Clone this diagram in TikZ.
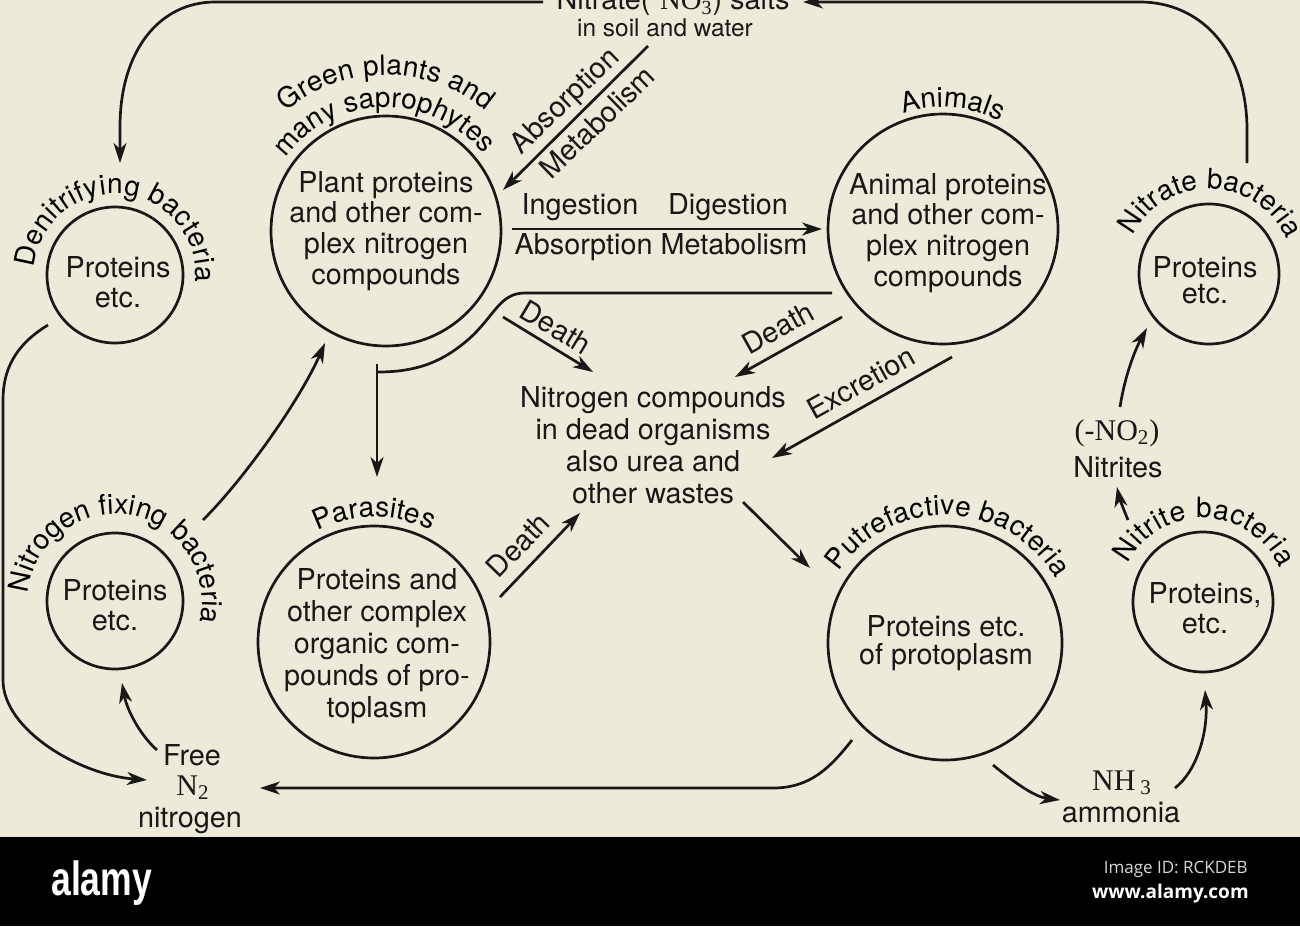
\documentclass[tikz,border=0pt]{standalone}
\usepackage{fontspec}
\setmainfont{TeX Gyre Heros}
\newfontfamily\serifnum{Liberation Serif}
\newfontfamily\logofont[FakeStretch=0.74]{Liberation Sans}
\newfontfamily\idfont{Open Sans}
\usetikzlibrary{arrows.meta,decorations.text}
\definecolor{paper}{RGB}{237,234,217}
\definecolor{ink}{RGB}{24,24,22}
\definecolor{idgray}{RGB}{215,215,215}
\newcommand\bodyfont{\fontsize{14.4}{15.4}\selectfont}
\newcommand\lblfont{\fontsize{14}{14}\selectfont}
\begin{document}
\begin{tikzpicture}[x=0.5pt,y=-0.5pt,line width=1.35pt,color=ink,
  arr/.style={-{Stealth[length=10pt,width=6.5pt,inset=3pt]}},
  ring/.style={circle,draw=ink,line width=1.35pt,inner sep=0pt,outer sep=0pt},
  body/.style={align=center,inner sep=0pt,font=\bodyfont},
  lab/.style={inner sep=0pt,font=\bodyfont},
  arclab/.style={decorate,decoration={text along path,text align={fit to path},text={|\lblfont|#1}}}]
\useasboundingbox (0,0) rectangle (1300,926);
\clip (0,0) rectangle (1300,926);
\fill[paper] (0,0) rectangle (1300,838);
\fill[black] (0,837) rectangle (1300,926);

% ---------- circles ----------
\node[ring,minimum size=115pt] (plant) at (386,231) {};
\node[ring,minimum size=115pt] (animal) at (943,229) {};
\node[ring,minimum size=116pt] (paras) at (374,642) {};
\node[ring,minimum size=117pt] (putre) at (945,643) {};
\node[ring,minimum size=68pt] (denit) at (115,275) {};
\node[ring,minimum size=68pt] (nfix) at (115,601) {};
\node[ring,minimum size=70pt] (nitrate) at (1209,274) {};
\node[ring,minimum size=70pt] (nitrite) at (1203,602) {};

% ---------- texts inside ----------
\node[body] (plantt) at (386,231) {Plant proteins\\and other com-\\plex nitrogen\\compounds};
\node[body] (animalt) at (948,233) {Animal proteins\\and other com-\\plex nitrogen\\compounds};
\node[body,font=\fontsize{14.4}{16}\selectfont] (parast) at (377,646) {Proteins and\\other complex\\organic com-\\pounds of pro-\\toplasm};
\node[body,font=\fontsize{14.4}{14}\selectfont] (putret) at (946,643) {Proteins etc.\\of protoplasm};
\node[body,font=\fontsize{14.4}{15}\selectfont] (denitt) at (118,282) {Proteins\\etc.};
\node[body,font=\fontsize{14.4}{15}\selectfont] (nfixt) at (115,605) {Proteins\\etc.};
\node[body,font=\fontsize{14.4}{13}\selectfont] (nitratet) at (1205,280) {Proteins\\etc.};
\node[body,font=\fontsize{14.4}{15}\selectfont] (nitritet) at (1205,608) {Proteins,\\etc.};
\node[body,font=\fontsize{14.4}{16}\selectfont] (deadt) at (653,445) {Nitrogen compounds\\in dead organisms\\also urea and\\other wastes};

% ---------- curved labels ----------
\path[arclab={Green plants and}] (plant.center) ++(-130:156) arc[start angle=-130,end angle=-50,radius=156];
\path[arclab={many saprophytes}] (plant.center) ++(-144:124) arc[start angle=-144,end angle=-38,radius=124];
\path[arclab={Animals}] (animal.center) ++(-109:122) arc[start angle=-109,end angle=-62,radius=122];
\path[arclab={Parasites}] (paras.center) ++(-117:125) arc[start angle=-117,end angle=-63,radius=125];
\path[arclab={Putrefactive bacteria}] (putre.center) ++(-146:128) arc[start angle=-146,end angle=-30,radius=128];
\path[arclab={Denitrifying bacteria}] (denit.center) ++(-175:81) arc[start angle=-175,end angle=5,radius=81];
\path[arclab={Nitrogen fixing bacteria}] (nfix.center) ++(-175:87) arc[start angle=-175,end angle=14,radius=87];
\path[arclab={Nitrate bacteria}] (nitrate.center) ++(-153:85) arc[start angle=-153,end angle=-24,radius=85];
\path[arclab={Nitrite bacteria}] (nitrite.center) ++(-153:84) arc[start angle=-153,end angle=-24,radius=84];

% ---------- free texts ----------
\node[lab,anchor=base] (nitsalt) at (673,10) {Nitrate({\serifnum\raisebox{6pt}{-}NO\textsubscript{3}}) salts};
\node[lab,font=\fontsize{12.2}{13}\selectfont] (soil) at (665,28) {in soil and water};
\node[lab,font={\serifnum\fontsize{15}{16}\selectfont}] (no2) at (1117,433) {(-NO\textsubscript{2})};
\node[lab] (nitrites) at (1118,467) {Nitrites};
\node[lab,font={\serifnum\fontsize{15}{16}\selectfont}] (nh3) at (1122,783) {NH\,\textsubscript{3}};
\node[lab] (ammonia) at (1121,813) {ammonia};
\node[lab] (free) at (192,755) {Free};
\node[lab,font={\serifnum\fontsize{15}{16}\selectfont}] (n2) at (193,788) {N\textsubscript{2}};
\node[lab] (nitrogen) at (190,820) {nitrogen};

% ---------- arrow labels ----------
\node[lab,rotate=44] (absA) at (566,102) {Absorption};
\node[lab,rotate=44] (absM) at (597,122) {Metabolism};
\node[lab] (ing) at (580,207) {Ingestion};
\node[lab] (dig) at (728,207) {Digestion};
\node[lab] (absmet) at (661,247) {Absorption Metabolism};
\node[lab,rotate=-31] (d1) at (556,327) {Death};
\node[lab,rotate=29] (d2) at (778,328) {Death};
\node[lab,rotate=29] (exc) at (861,383) {Excretion};
\node[lab,rotate=46] (d3) at (518,545) {Death};

% ---------- connector ends ----------
\coordinate (c1s) at (543,2);   \coordinate (c1e) at (120,163);
\coordinate (c2s) at (1247,163); \coordinate (c2e) at (803,2);
\coordinate (c3s) at (648,46);  \coordinate (c3e) at (503,190);
\coordinate (c4s) at (512,229); \coordinate (c4e) at (822,229);
\coordinate (c5s) at (832,293); \coordinate (c5e) at (378,372);
\coordinate (c6s) at (377,364); \coordinate (c6e) at (377,477);
\coordinate (c7s) at (503,317); \coordinate (c7e) at (593,372);
\coordinate (c8s) at (842,317); \coordinate (c8e) at (735,377);
\coordinate (c9s) at (952,357); \coordinate (c9e) at (772,458);
\coordinate (c10s) at (500,597); \coordinate (c10e) at (580,513);
\coordinate (c11s) at (743,502); \coordinate (c11e) at (810,568);
\coordinate (c12s) at (993,765); \coordinate (c12e) at (1060,800);
\coordinate (c13s) at (1175,788); \coordinate (c13e) at (1205,690);
\coordinate (c14s) at (1128,520); \coordinate (c14e) at (1117,487);
\coordinate (c15s) at (1120,407); \coordinate (c15e) at (1147,328);
\coordinate (c16s) at (852,740); \coordinate (c16e) at (260,788);
\coordinate (c17s) at (157,750); \coordinate (c17e) at (122,683);
\coordinate (c18s) at (48,325);  \coordinate (c18e) at (147,780);
\coordinate (c19s) at (203,520); \coordinate (c19e) at (325,343);

% ---------- connectors ----------
\draw[arr] (c1s) -- (215,2) .. controls (160,2) and (120,50) .. (120,127) -- (c1e);
\draw[arr] (c2s) -- (1247,130) .. controls (1247,50) and (1200,2) .. (1140,2) -- (c2e);
\draw[arr] (c3s) -- (c3e);
\draw[arr] (c4s) -- (c4e);
\draw (c5s) -- (525,293) .. controls (500,293) and (495,315) .. (470,338) .. controls (445,360) and (420,372) .. (c5e);
\draw[arr] (c6s) -- (c6e);
\draw[arr] (c7s) -- (c7e);
\draw[arr] (c8s) -- (c8e);
\draw[arr] (c9s) -- (c9e);
\draw[arr] (c10s) -- (c10e);
\draw[arr] (c11s) -- (c11e);
\draw[arr] (c12s) .. controls (1015,783) and (1035,797) .. (c12e);
\draw[arr] (c13s) .. controls (1198,770) and (1208,730) .. (c13e);
\draw[arr] (c14s) .. controls (1123,508) and (1119,497) .. (c14e);
\draw[arr] (c15s) .. controls (1125,375) and (1135,350) .. (c15e);
\draw[arr] (c16s) .. controls (830,768) and (810,788) .. (773,788) -- (c16e);
\draw[arr] (c17s) .. controls (140,735) and (127,710) .. (c17e);
\draw[arr] (c18s) .. controls (15,345) and (3,370) .. (3,400) -- (3,680) .. controls (3,730) and (80,775) .. (c18e);
\draw[arr] (c19s) .. controls (245,478) and (300,400) .. (c19e);

% ---------- banner ----------
\node[anchor=base west,inner sep=0pt,text=white,font={\logofont\bfseries\fontsize{24}{24}\selectfont}] (logo) at (50,895) {alamy};
\node[anchor=base east,inner sep=0pt,text=idgray,font={\idfont\fontsize{8.5}{9}\selectfont}] (imgid) at (1249,873) {Image ID: RCKDEB};
\node[anchor=base east,inner sep=0pt,text=white,font={\idfont\bfseries\fontsize{9.5}{10}\selectfont}] (www) at (1250,898) {www.alamy.com};
\end{tikzpicture}
\end{document}
